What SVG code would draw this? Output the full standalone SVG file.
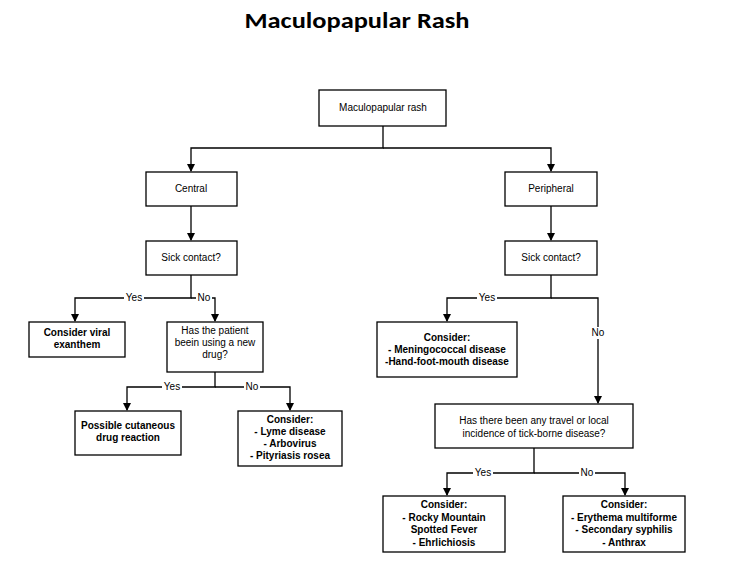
<svg xmlns="http://www.w3.org/2000/svg" width="730" height="585" viewBox="0 0 730 585">
<style>
.b{fill:#fff;stroke:#000;stroke-width:1.3}
.t{font-family:"Liberation Sans",Arial,sans-serif;font-size:10px;text-anchor:middle;fill:#000}
.bt{font-weight:bold}
.c{fill:none;stroke:#000;stroke-width:1.3}
.l{font-family:"Liberation Sans",Arial,sans-serif;font-size:10px;text-anchor:middle;fill:#000}
.lb{fill:#fff}
</style>
<defs><marker id="a" markerWidth="8" markerHeight="8" refX="7" refY="4" orient="auto" markerUnits="userSpaceOnUse"><path d="M0,0L8,4L0,8Z" fill="#000"/></marker></defs>
<rect width="730" height="585" fill="#fff"/>
<text x="357" y="28" font-family="Carlito,'Liberation Sans',sans-serif" font-weight="bold" font-size="22" text-anchor="middle" textLength="225" lengthAdjust="spacingAndGlyphs">Maculopapular Rash</text>
<g id="connectors">
<path class="c" d="M383,126V148H191V171" marker-end="url(#a)"/>
<path class="c" d="M383,148H551V171" marker-end="url(#a)"/>
<path class="c" d="M191,206V240" marker-end="url(#a)"/>
<path class="c" d="M551,206V240" marker-end="url(#a)"/>
<path class="c" d="M191,275V298H75V321" marker-end="url(#a)"/>
<path class="c" d="M191,298H215V321" marker-end="url(#a)"/>
<path class="c" d="M215,372V387H127V410" marker-end="url(#a)"/>
<path class="c" d="M215,387H290V410" marker-end="url(#a)"/>
<path class="c" d="M551,275V298H447V321" marker-end="url(#a)"/>
<path class="c" d="M551,298H598V403" marker-end="url(#a)"/>
<path class="c" d="M534,448V473H447V495" marker-end="url(#a)"/>
<path class="c" d="M534,473H625V495" marker-end="url(#a)"/>
<g class="l">
<rect class="lb" x="124" y="292" width="20" height="11"/><text x="134" y="301">Yes</text>
<rect class="lb" x="196" y="292" width="16" height="11"/><text x="204" y="301">No</text>
<rect class="lb" x="162" y="381" width="20" height="11"/><text x="172" y="390">Yes</text>
<rect class="lb" x="244" y="381" width="16" height="11"/><text x="252" y="390">No</text>
<rect class="lb" x="477" y="292" width="20" height="11"/><text x="487" y="301">Yes</text>
<rect class="lb" x="590" y="327" width="16" height="12"/><text x="598" y="336">No</text>
<rect class="lb" x="473" y="467" width="20" height="11"/><text x="483" y="476">Yes</text>
<rect class="lb" x="579" y="467" width="16" height="11"/><text x="587" y="476">No</text>
</g>
</g>
<g id="root"><rect class="b" x="319" y="90" width="127" height="36"/><text class="t" x="383" y="111">Maculopapular rash</text></g>
<g id="central"><rect class="b" x="146" y="172" width="91" height="34"/><text class="t" x="191" y="192">Central</text></g>
<g id="peripheral"><rect class="b" x="505" y="172" width="92" height="34"/><text class="t" x="551" y="192">Peripheral</text></g>
<g id="sick1"><rect class="b" x="146" y="241" width="91" height="34"/><text class="t" x="191" y="261">Sick contact?</text></g>
<g id="sick2"><rect class="b" x="505" y="241" width="92" height="34"/><text class="t" x="551" y="261">Sick contact?</text></g>
<g id="viral"><rect class="b" x="29" y="322" width="96" height="35"/><text class="t bt" x="77" y="336">Consider viral</text><text class="t bt" x="77" y="348">exanthem</text></g>
<g id="drug"><rect class="b" x="167" y="322" width="96" height="50"/><text class="t" x="215" y="334">Has the patient</text><text class="t" x="215" y="346">beein using a new</text><text class="t" x="215" y="358">drug?</text></g>
<g id="cutaneous"><rect class="b" x="75" y="411" width="106" height="44"/><text class="t bt" x="128" y="429">Possible cutaneous</text><text class="t bt" x="128" y="441">drug reaction</text></g>
<g id="lyme"><rect class="b" x="238" y="411" width="104" height="55"/><text class="t bt" x="290" y="423">Consider:</text><text class="t bt" x="290" y="435">- Lyme disease</text><text class="t bt" x="290" y="447">- Arbovirus</text><text class="t bt" x="290" y="459">- Pityriasis rosea</text></g>
<g id="mening"><rect class="b" x="377" y="322" width="140" height="55"/><text class="t bt" x="447" y="341">Consider:</text><text class="t bt" x="447" y="353">- Meningococcal disease</text><text class="t bt" x="447" y="365">-Hand-foot-mouth disease</text></g>
<g id="travel"><rect class="b" x="435" y="404" width="198" height="44"/><text class="t" x="534" y="424">Has there been any travel or local</text><text class="t" x="534" y="437">incidence of tick-borne disease?</text></g>
<g id="rocky"><rect class="b" x="383" y="496" width="122" height="56"/><text class="t bt" x="444" y="508">Consider:</text><text class="t bt" x="444" y="521">- Rocky Mountain</text><text class="t bt" x="444" y="533">Spotted Fever</text><text class="t bt" x="444" y="546">- Ehrlichiosis</text></g>
<g id="erythema"><rect class="b" x="563" y="496" width="122" height="56"/><text class="t bt" x="624" y="508">Consider:</text><text class="t bt" x="624" y="521">- Erythema multiforme</text><text class="t bt" x="624" y="533">- Secondary syphilis</text><text class="t bt" x="624" y="546">- Anthrax</text></g>
</svg>
